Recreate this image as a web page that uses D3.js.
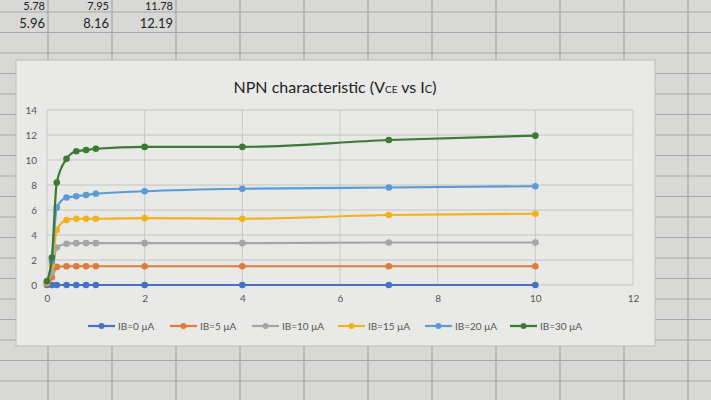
<!doctype html><html><head><style>body{margin:0;background:#d6d6d4;}</style></head><body><script src='https://d3js.org/d3.v7.min.js'></script>

<script>
  const vce = [0, 0.1, 0.2, 0.4, 0.6, 0.8, 1, 2, 4, 7, 10];
  const ib0 = [0, 0, 0, 0, 0, 0, 0, 0, 0, 0, 0];
  const ib5 = [0.1, 0.6, 1.45, 1.5, 1.5, 1.5, 1.5, 1.5, 1.5, 1.5, 1.5];
  const ib10 = [0.2, 1.0, 3.0, 3.3, 3.35, 3.35, 3.35, 3.35, 3.35, 3.4, 3.4];
  const ib15 = [0.2, 1.6, 4.4, 5.2, 5.3, 5.3, 5.3, 5.35, 5.3, 5.6, 5.7];
  const ib20 = [0.3, 1.9, 6.2, 7.0, 7.1, 7.2, 7.3, 7.5, 7.7, 7.8, 7.9];
  const ib30 = [0.3, 2.2, 8.2, 10.1, 10.7, 10.8, 10.9, 11.05, 11.05, 11.6, 11.95];
  const seriesNames = ["IB=0 μA", "IB=5 μA", "IB=10 μA", "IB=15 μA", "IB=20 μA", "IB=30 μA"];
  const xTicks = [0, 2, 4, 6, 8, 10, 12];
  const yTicks = [0, 2, 4, 6, 8, 10, 12, 14];
  // spreadsheet cells above the chart
  const cellRow1 = ["5.78", "7.95", "11.78"];
  const cellRow2 = ["5.96", "8.16", "12.19"];

  const colors = ["#4472c4", "#e07b3c", "#a5a5a8", "#f2b21c", "#5b9bd5", "#3d7a33"];
  const allSeries = [ib0, ib5, ib10, ib15, ib20, ib30];

  const width = 711, height = 400;
  const svg = d3.select("body").append("svg")
    .attr("width", width).attr("height", height)
    .style("font-family", "Lato, 'Open Sans', sans-serif");

  // spreadsheet background
  svg.append("rect").attr("width", width).attr("height", height).attr("fill", "#d8d8d6");
  for (var cx = 48; cx < width; cx += 64) {
    svg.append("line").attr("x1", cx).attr("x2", cx).attr("y1", 0).attr("y2", height)
      .attr("stroke", "#9a9a9a").attr("stroke-width", 1);
  }
  for (var cy = 12; cy < height; cy += 20.5) {
    svg.append("line").attr("x1", 0).attr("x2", width).attr("y1", cy).attr("y2", cy)
      .attr("stroke", "#a8a8a8").attr("stroke-width", 1);
  }
  [cellRow1, cellRow2].forEach(function(row, r) {
    row.forEach(function(t, i) {
      svg.append("text")
        .attr("x", 45 + i * 64).attr("y", r == 0 ? 10 : 28)
        .attr("text-anchor", "end").attr("font-size", r == 0 ? "11px" : "13px")
        .attr("fill", "#222").text(t);
    });
  });

  // chart box
  svg.append("rect")
    .attr("x", 16).attr("y", 60).attr("width", 639).attr("height", 286)
    .attr("fill", "#e9e9e7").attr("stroke", "#bdbdbd");

  svg.append("text")
    .attr("x", 335).attr("y", 93).attr("text-anchor", "middle")
    .attr("font-size", "16px").attr("fill", "#222")
    .html("NPN characteristic (V<tspan font-size='10px'>CE</tspan> vs I<tspan font-size='11px'>C</tspan>)");

  const x = d3.scaleLinear().domain([0, 12]).range([47, 633]);
  const y = d3.scaleLinear().domain([0, 14]).range([285, 110]);

  // gridlines
  svg.append("g").selectAll("line").data(yTicks).enter().append("line")
    .attr("x1", x(0)).attr("x2", x(12))
    .attr("y1", function(d) { return y(d); }).attr("y2", function(d) { return y(d); })
    .attr("stroke", "#c4c4c4");
  svg.append("g").selectAll("line").data(xTicks).enter().append("line")
    .attr("y1", y(0)).attr("y2", y(14))
    .attr("x1", function(d) { return x(d); }).attr("x2", function(d) { return x(d); })
    .attr("stroke", "#c8c8c8");

  var yAxis = svg.append("g").attr("transform", "translate(" + (x(0) - 6) + ",0)")
    .call(d3.axisLeft(y).tickValues(yTicks).tickSize(0).tickPadding(4));
  var xAxis = svg.append("g").attr("transform", "translate(0," + (y(0) + 6) + ")")
    .call(d3.axisBottom(x).tickValues(xTicks).tickSize(0).tickPadding(4));
  [xAxis, yAxis].forEach(function(a) {
    a.select(".domain").remove();
    a.selectAll("text").attr("font-size", "10px").attr("fill", "#555")
      .style("font-family", "Lato, 'Open Sans', sans-serif");
  });

  var line = d3.line()
    .x(function(d, i) { return x(vce[i]); })
    .y(function(d) { return y(d); })
    .curve(d3.curveMonotoneX);

  allSeries.forEach(function(s, k) {
    var g = svg.append("g");
    g.append("path").datum(s).attr("d", line)
      .attr("fill", "none").attr("stroke", colors[k]).attr("stroke-width", 2.2);
    g.selectAll("circle").data(s).enter().append("circle")
      .attr("cx", function(d, i) { return x(vce[i]); })
      .attr("cy", function(d) { return y(d); })
      .attr("r", 3.3).attr("fill", colors[k]);
  });

  // legend
  var legendX = [88, 170, 252, 338, 425, 510];
  var lg = svg.append("g").selectAll("g").data(seriesNames).enter().append("g")
    .attr("transform", function(d, i) { return "translate(" + legendX[i] + ",326)"; });
  lg.append("line").attr("x1", 0).attr("x2", 27)
    .attr("stroke", function(d, i) { return colors[i]; }).attr("stroke-width", 2.2);
  lg.append("circle").attr("cx", 13.5).attr("r", 3)
    .attr("fill", function(d, i) { return colors[i]; });
  lg.append("text").attr("x", 30).attr("dy", "0.35em")
    .attr("font-size", "10px").attr("fill", "#555")
    .text(function(d) { return d; });
</script></body></html>
